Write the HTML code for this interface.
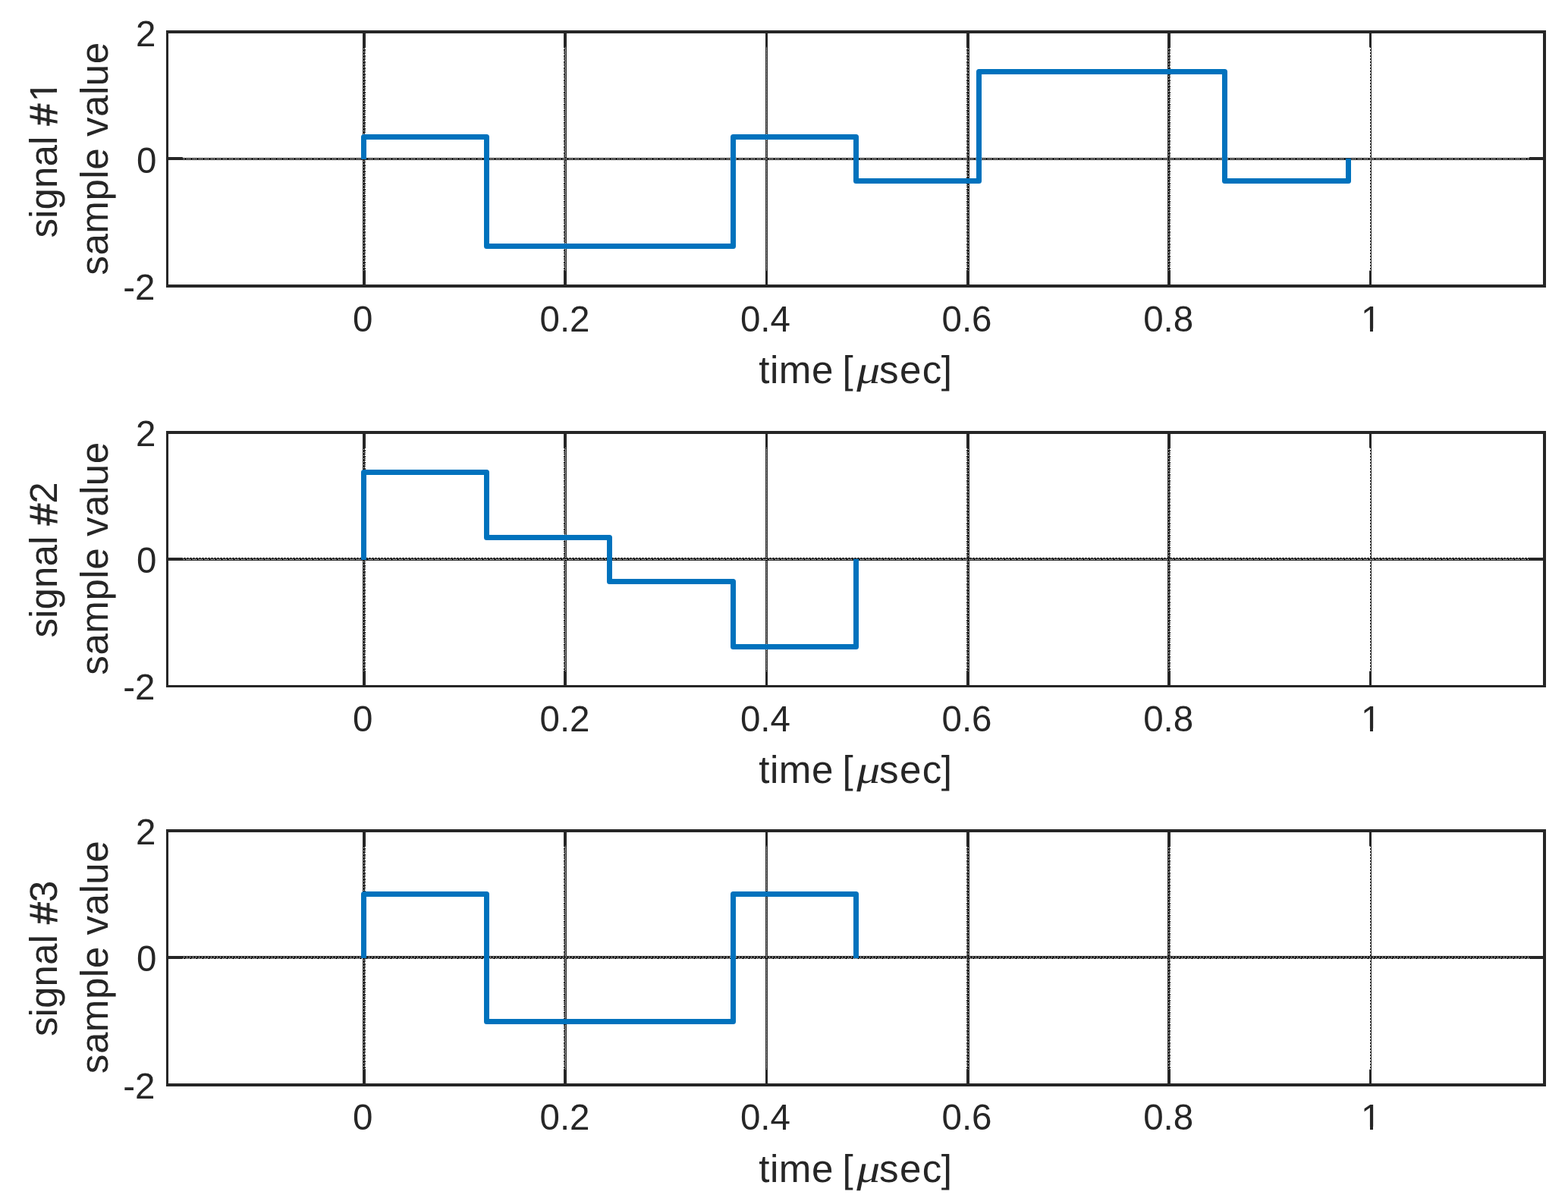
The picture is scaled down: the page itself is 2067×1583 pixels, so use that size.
<!DOCTYPE html>
<html lang="en"><head><meta charset="utf-8"><title>signal sample values</title>
<style>
html,body{margin:0;padding:0;background:#fff;}
body{width:2067px;height:1583px;overflow:hidden;}
svg{display:block;}
.ax{fill:#262626;shape-rendering:crispEdges;}
.tkm{fill:#262626;}
.dot{stroke:#fff;stroke-width:1;fill:none;shape-rendering:crispEdges;}
.jag{stroke:#262626;stroke-width:1;fill:none;shape-rendering:crispEdges;}
.wm{fill:#fff;}
.sig{fill:none;stroke:#0072BD;stroke-width:7;stroke-linejoin:round;stroke-linecap:butt;}
text{font-family:"Liberation Sans",sans-serif;fill:#262626;}
.tk{font-size:47.5px;}
.lb{font-size:51.1px;text-rendering:geometricPrecision;}
.mu{font-family:"Liberation Serif",serif;font-style:italic;font-size:52px;}
.hs{stroke:#262626;stroke-width:1.2px;stroke-linejoin:miter;}
</style></head><body>
<svg xmlns="http://www.w3.org/2000/svg" width="2067" height="1583" viewBox="0 0 2067 1583">
<rect width="2067" height="1583" fill="#fff"/>
<g>
<rect class="ax" x="478" y="44" width="4" height="331"/>
<line class="dot" x1="479.5" y1="44" x2="479.5" y2="375" stroke-dasharray="1 3" stroke-dashoffset="0"/>
<line class="dot" x1="481.5" y1="44" x2="481.5" y2="375" stroke-dasharray="1 1 1 1 2 2" stroke-dashoffset="1"/>
<rect class="ax" x="743" y="44" width="4" height="331"/>
<line class="dot" x1="745.5" y1="44" x2="745.5" y2="375" stroke-dasharray="1 1" stroke-dashoffset="0"/>
<line class="dot" x1="743.5" y1="44" x2="743.5" y2="375" stroke-dasharray="1 1 1 1 2 2" stroke-dashoffset="1"/>
<rect class="ax" x="1009" y="44" width="3" height="331"/>
<line class="dot" x1="1010.5" y1="44" x2="1010.5" y2="375" stroke-dasharray="1 1" stroke-dashoffset="0"/>
<rect class="ax" x="1274" y="44" width="4" height="331"/>
<line class="dot" x1="1276.5" y1="44" x2="1276.5" y2="375" stroke-dasharray="1 3" stroke-dashoffset="0"/>
<line class="dot" x1="1274.5" y1="44" x2="1274.5" y2="375" stroke-dasharray="1 1 1 1 2 2" stroke-dashoffset="1"/>
<rect class="ax" x="1539" y="44" width="4" height="331"/>
<line class="dot" x1="1540.5" y1="44" x2="1540.5" y2="375" stroke-dasharray="1 3" stroke-dashoffset="0"/>
<line class="dot" x1="1542.5" y1="44" x2="1542.5" y2="375" stroke-dasharray="1 1 1 1 2 2" stroke-dashoffset="1"/>
<rect class="ax" x="1806" y="44" width="2" height="331"/>
<line class="dot" x1="1806.5" y1="44" x2="1806.5" y2="375" stroke-dasharray="2 2" stroke-dashoffset="1"/>
<rect class="ax" x="222" y="208" width="1812" height="3"/>
<line class="dot" x1="222" y1="209.5" x2="2034" y2="209.5" stroke-dasharray="1 1 1 1 1 3" stroke-dashoffset="0"/>
<rect class="tkm" x="478" y="356.6" width="4" height="18.4"/>
<rect class="tkm" x="478" y="44" width="4" height="18.4"/>
<rect class="tkm" x="743" y="356.6" width="4" height="18.4"/>
<rect class="tkm" x="743" y="44" width="4" height="18.4"/>
<rect class="tkm" x="1009" y="356.6" width="3" height="18.4"/>
<rect class="tkm" x="1009" y="44" width="3" height="18.4"/>
<rect class="tkm" x="1274" y="356.6" width="4" height="18.4"/>
<rect class="tkm" x="1274" y="44" width="4" height="18.4"/>
<rect class="tkm" x="1539" y="356.6" width="4" height="18.4"/>
<rect class="tkm" x="1539" y="44" width="4" height="18.4"/>
<rect class="tkm" x="1805" y="356.6" width="3" height="18.4"/>
<rect class="tkm" x="1805" y="44" width="3" height="18.4"/>
<rect class="tkm" x="222" y="207" width="18.8" height="4"/>
<rect class="tkm" x="2016" y="207" width="18" height="4"/>
<rect class="ax" x="219" y="40" width="1819" height="4"/>
<rect class="ax" x="219" y="375" width="1819" height="4"/>
<rect class="ax" x="219" y="40" width="3" height="339"/>
<rect class="ax" x="2034" y="40" width="4" height="339"/>
<path class="sig" d="M479.5 210.1 L479.5 180.5 L641.5 180.5 L641.5 324.5 L803.5 324.5 L803.5 324.5 L966.5 324.5 L966.5 180.5 L1128.5 180.5 L1128.5 238.5 L1290.5 238.5 L1290.5 94.5 L1452.5 94.5 L1452.5 94.5 L1614.5 94.5 L1614.5 238.5 L1777.5 238.5 L1777.5 208.8"/>
<text class="tk" x="205.5" y="61" text-anchor="end">2</text>
<text class="tk" x="206.5" y="228" text-anchor="end">0</text>
<text class="tk" x="204.4" y="395" text-anchor="end">-2</text>
<text class="tk" x="478.1" y="437" text-anchor="middle">0</text>
<text class="tk" x="744.5" y="437" text-anchor="middle">0.2</text>
<text class="tk" x="1008.9" y="437" text-anchor="middle">0.4</text>
<text class="tk" x="1274.5" y="437" text-anchor="middle">0.6</text>
<text class="tk" x="1540.2" y="437" text-anchor="middle">0.8</text>
<text class="tk" x="1807.1" y="437" text-anchor="middle">1</text>
<rect class="wm" x="1796.01" y="432.851" width="9.99" height="5.149"/>
<rect class="wm" x="1810" y="432.851" width="9.489" height="5.149"/>
<text class="lb" y="505"><tspan x="1000.3" letter-spacing="0.5">time</tspan> <tspan x="1110.6">[</tspan><tspan class="mu" x="1129.3" textLength="31" lengthAdjust="spacingAndGlyphs">μ</tspan><tspan x="1159.1" letter-spacing="1.4">sec</tspan><tspan x="1240.8">]</tspan></text>
<g transform="translate(75 313.6) rotate(-90)">
<text class="lb" x="0" y="0" letter-spacing="0.1">signal <tspan class="hs">#</tspan><tspan dx="2.2">1</tspan></text>
<rect class="wm" x="181.523" y="-4.41753" width="10.407" height="5.418"/>
<rect class="wm" x="196.546" y="-4.41753" width="10.008" height="5.418"/>
</g>
<text class="lb" transform="translate(142 362.7) rotate(-90)" letter-spacing="0.53">sample value</text>
</g>
<g>
<rect class="ax" x="478" y="572" width="4" height="331"/>
<line class="dot" x1="479.5" y1="572" x2="479.5" y2="903" stroke-dasharray="1 3" stroke-dashoffset="0"/>
<line class="dot" x1="481.5" y1="572" x2="481.5" y2="903" stroke-dasharray="1 1 1 1 2 2" stroke-dashoffset="1"/>
<rect class="ax" x="743" y="572" width="4" height="331"/>
<line class="dot" x1="745.5" y1="572" x2="745.5" y2="903" stroke-dasharray="1 1" stroke-dashoffset="0"/>
<line class="dot" x1="743.5" y1="572" x2="743.5" y2="903" stroke-dasharray="1 1 1 1 2 2" stroke-dashoffset="1"/>
<rect class="ax" x="1009" y="572" width="3" height="331"/>
<line class="dot" x1="1010.5" y1="572" x2="1010.5" y2="903" stroke-dasharray="1 1" stroke-dashoffset="0"/>
<rect class="ax" x="1274" y="572" width="4" height="331"/>
<line class="dot" x1="1276.5" y1="572" x2="1276.5" y2="903" stroke-dasharray="1 3" stroke-dashoffset="0"/>
<line class="dot" x1="1274.5" y1="572" x2="1274.5" y2="903" stroke-dasharray="1 1 1 1 2 2" stroke-dashoffset="1"/>
<rect class="ax" x="1539" y="572" width="4" height="331"/>
<line class="dot" x1="1540.5" y1="572" x2="1540.5" y2="903" stroke-dasharray="1 3" stroke-dashoffset="0"/>
<line class="dot" x1="1542.5" y1="572" x2="1542.5" y2="903" stroke-dasharray="1 1 1 1 2 2" stroke-dashoffset="1"/>
<rect class="ax" x="1806" y="572" width="2" height="331"/>
<line class="dot" x1="1806.5" y1="572" x2="1806.5" y2="903" stroke-dasharray="2 2" stroke-dashoffset="1"/>
<rect class="ax" x="222" y="736" width="1812" height="3"/>
<line class="dot" x1="222" y1="737.5" x2="2034" y2="737.5" stroke-dasharray="1 1 1 1 1 3" stroke-dashoffset="0"/>
<line class="jag" x1="222" y1="735.5" x2="2034" y2="735.5" stroke-dasharray="3 1" stroke-dashoffset="0"/>
<rect class="tkm" x="478" y="884.6" width="4" height="18.4"/>
<rect class="tkm" x="478" y="572" width="4" height="18.4"/>
<rect class="tkm" x="743" y="884.6" width="4" height="18.4"/>
<rect class="tkm" x="743" y="572" width="4" height="18.4"/>
<rect class="tkm" x="1009" y="884.6" width="3" height="18.4"/>
<rect class="tkm" x="1009" y="572" width="3" height="18.4"/>
<rect class="tkm" x="1274" y="884.6" width="4" height="18.4"/>
<rect class="tkm" x="1274" y="572" width="4" height="18.4"/>
<rect class="tkm" x="1539" y="884.6" width="4" height="18.4"/>
<rect class="tkm" x="1539" y="572" width="4" height="18.4"/>
<rect class="tkm" x="1805" y="884.6" width="3" height="18.4"/>
<rect class="tkm" x="1805" y="572" width="3" height="18.4"/>
<rect class="tkm" x="222" y="735" width="18.8" height="4"/>
<rect class="tkm" x="2016" y="735" width="18" height="4"/>
<rect class="ax" x="219" y="568" width="1819" height="4"/>
<rect class="ax" x="219" y="903" width="1819" height="3"/>
<rect class="ax" x="219" y="568" width="3" height="338"/>
<rect class="ax" x="2034" y="568" width="4" height="338"/>
<path class="sig" d="M479.5 738.1 L479.5 622.5 L641.5 622.5 L641.5 708.5 L803.5 708.5 L803.5 766.5 L966.5 766.5 L966.5 852.5 L1128.5 852.5 L1128.5 736.8"/>
<text class="tk" x="205.5" y="588" text-anchor="end">2</text>
<text class="tk" x="206.5" y="755" text-anchor="end">0</text>
<text class="tk" x="204.4" y="922" text-anchor="end">-2</text>
<text class="tk" x="478.1" y="964" text-anchor="middle">0</text>
<text class="tk" x="744.5" y="964" text-anchor="middle">0.2</text>
<text class="tk" x="1008.9" y="964" text-anchor="middle">0.4</text>
<text class="tk" x="1274.5" y="964" text-anchor="middle">0.6</text>
<text class="tk" x="1540.2" y="964" text-anchor="middle">0.8</text>
<text class="tk" x="1807.1" y="964" text-anchor="middle">1</text>
<rect class="wm" x="1796.01" y="959.851" width="9.99" height="5.149"/>
<rect class="wm" x="1810" y="959.851" width="9.489" height="5.149"/>
<text class="lb" y="1032"><tspan x="1000.3" letter-spacing="0.5">time</tspan> <tspan x="1110.6">[</tspan><tspan class="mu" x="1129.3" textLength="31" lengthAdjust="spacingAndGlyphs">μ</tspan><tspan x="1159.1" letter-spacing="1.4">sec</tspan><tspan x="1240.8">]</tspan></text>
<g transform="translate(75 840.6) rotate(-90)">
<text class="lb" x="0" y="0" letter-spacing="0.1">signal <tspan class="hs">#</tspan>2</text>
</g>
<text class="lb" transform="translate(142 889.7) rotate(-90)" letter-spacing="0.53">sample value</text>
</g>
<g>
<rect class="ax" x="478" y="1097" width="4" height="331"/>
<line class="dot" x1="479.5" y1="1097" x2="479.5" y2="1428" stroke-dasharray="1 3" stroke-dashoffset="0"/>
<line class="dot" x1="481.5" y1="1097" x2="481.5" y2="1428" stroke-dasharray="1 1 1 1 2 2" stroke-dashoffset="1"/>
<rect class="ax" x="743" y="1097" width="4" height="331"/>
<line class="dot" x1="745.5" y1="1097" x2="745.5" y2="1428" stroke-dasharray="1 1" stroke-dashoffset="0"/>
<line class="dot" x1="743.5" y1="1097" x2="743.5" y2="1428" stroke-dasharray="1 1 1 1 2 2" stroke-dashoffset="1"/>
<rect class="ax" x="1009" y="1097" width="3" height="331"/>
<line class="dot" x1="1010.5" y1="1097" x2="1010.5" y2="1428" stroke-dasharray="1 1" stroke-dashoffset="0"/>
<rect class="ax" x="1274" y="1097" width="4" height="331"/>
<line class="dot" x1="1276.5" y1="1097" x2="1276.5" y2="1428" stroke-dasharray="1 3" stroke-dashoffset="0"/>
<line class="dot" x1="1274.5" y1="1097" x2="1274.5" y2="1428" stroke-dasharray="1 1 1 1 2 2" stroke-dashoffset="1"/>
<rect class="ax" x="1539" y="1097" width="4" height="331"/>
<line class="dot" x1="1540.5" y1="1097" x2="1540.5" y2="1428" stroke-dasharray="1 3" stroke-dashoffset="0"/>
<line class="dot" x1="1542.5" y1="1097" x2="1542.5" y2="1428" stroke-dasharray="1 1 1 1 2 2" stroke-dashoffset="1"/>
<rect class="ax" x="1806" y="1097" width="2" height="331"/>
<line class="dot" x1="1806.5" y1="1097" x2="1806.5" y2="1428" stroke-dasharray="2 2" stroke-dashoffset="1"/>
<rect class="ax" x="222" y="1260" width="1812" height="3"/>
<line class="dot" x1="222" y1="1261.5" x2="2034" y2="1261.5" stroke-dasharray="1 3" stroke-dashoffset="0"/>
<line class="jag" x1="222" y1="1263.5" x2="2034" y2="1263.5" stroke-dasharray="1 1 1 1 3 1" stroke-dashoffset="0"/>
<rect class="tkm" x="478" y="1409.6" width="4" height="18.4"/>
<rect class="tkm" x="478" y="1097" width="4" height="18.4"/>
<rect class="tkm" x="743" y="1409.6" width="4" height="18.4"/>
<rect class="tkm" x="743" y="1097" width="4" height="18.4"/>
<rect class="tkm" x="1009" y="1409.6" width="3" height="18.4"/>
<rect class="tkm" x="1009" y="1097" width="3" height="18.4"/>
<rect class="tkm" x="1274" y="1409.6" width="4" height="18.4"/>
<rect class="tkm" x="1274" y="1097" width="4" height="18.4"/>
<rect class="tkm" x="1539" y="1409.6" width="4" height="18.4"/>
<rect class="tkm" x="1539" y="1097" width="4" height="18.4"/>
<rect class="tkm" x="1805" y="1409.6" width="3" height="18.4"/>
<rect class="tkm" x="1805" y="1097" width="3" height="18.4"/>
<rect class="tkm" x="222" y="1260" width="18.8" height="4"/>
<rect class="tkm" x="2016" y="1260" width="18" height="4"/>
<rect class="ax" x="219" y="1093" width="1819" height="4"/>
<rect class="ax" x="219" y="1428" width="1819" height="4"/>
<rect class="ax" x="219" y="1093" width="3" height="339"/>
<rect class="ax" x="2034" y="1093" width="4" height="339"/>
<path class="sig" d="M479.5 1263.1 L479.5 1178.5 L641.5 1178.5 L641.5 1346.5 L803.5 1346.5 L803.5 1346.5 L966.5 1346.5 L966.5 1178.5 L1128.5 1178.5 L1128.5 1263.1"/>
<text class="tk" x="205.5" y="1113" text-anchor="end">2</text>
<text class="tk" x="206.5" y="1280" text-anchor="end">0</text>
<text class="tk" x="204.4" y="1448" text-anchor="end">-2</text>
<text class="tk" x="478.1" y="1489" text-anchor="middle">0</text>
<text class="tk" x="744.5" y="1489" text-anchor="middle">0.2</text>
<text class="tk" x="1008.9" y="1489" text-anchor="middle">0.4</text>
<text class="tk" x="1274.5" y="1489" text-anchor="middle">0.6</text>
<text class="tk" x="1540.2" y="1489" text-anchor="middle">0.8</text>
<text class="tk" x="1807.1" y="1489" text-anchor="middle">1</text>
<rect class="wm" x="1796.01" y="1484.85" width="9.99" height="5.149"/>
<rect class="wm" x="1810" y="1484.85" width="9.489" height="5.149"/>
<text class="lb" y="1558"><tspan x="1000.3" letter-spacing="0.5">time</tspan> <tspan x="1110.6">[</tspan><tspan class="mu" x="1129.3" textLength="31" lengthAdjust="spacingAndGlyphs">μ</tspan><tspan x="1159.1" letter-spacing="1.4">sec</tspan><tspan x="1240.8">]</tspan></text>
<g transform="translate(75 1366.1) rotate(-90)">
<text class="lb" x="0" y="0" letter-spacing="0.1">signal <tspan class="hs">#</tspan>3</text>
</g>
<text class="lb" transform="translate(142 1415.2) rotate(-90)" letter-spacing="0.53">sample value</text>
</g>
</svg>
</body></html>
